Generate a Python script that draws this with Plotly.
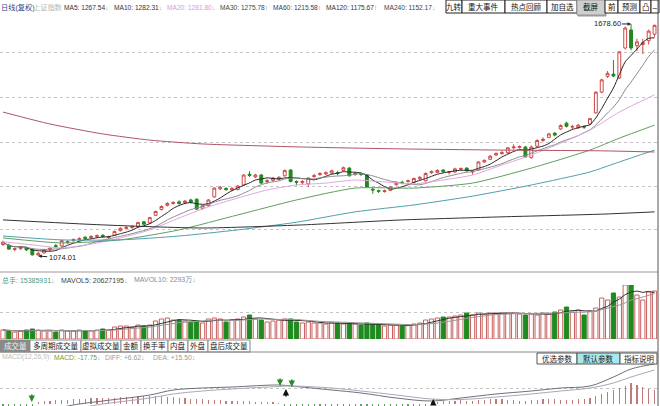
import plotly.graph_objects as go
import pandas as pd

W, H = 660, 406
FONT = "Liberation Sans, Noto Sans CJK SC, sans-serif"

# ---------------- data ----------------
opens = [1104,1102,1091,1093,1095,1092,1077,1082,1090,1101,1100,1109,1114,1117,1123,1122,1125,1128,1122,1128,
         1140,1146,1148,1151,1163,1160,1180,1195,1206,1211,1215,1213,1220,1222,1198,1205,1228,1249,1250,1246,
         1247,1259,1287,1280,1285,1268,1271,1274,1283,1298,1268,1265,1262,1281,1286,1288,1290,1291,1297,1303,
         1287,1289,1285,1248,1244,1242,1245,1260,1266,1268,1266,1275,1270,1291,1292,1298,1292,1293,1300,1303,
         1293,1298,1319,1326,1337,1341,1343,1356,1357,1358,1330,1360,1375,1383,1394,1405,1420,1410,1408,1411,
         1418,1447,1501,1542,1548,1538,1616,1663,1622,1625,1635,1652]
closes = [1110,1092,1093,1097,1090,1077,1081,1090,1094,1099,1114,1112,1117,1119,1120,1125,1127,1125,1124,1138,
          1146,1148,1151,1161,1157,1174,1190,1203,1211,1213,1211,1217,1214,1196,1205,1220,1251,1253,1247,1250,
          1256,1285,1284,1285,1264,1270,1277,1279,1297,1268,1266,1268,1277,1283,1289,1291,1296,1289,1304,1283,
          1289,1287,1254,1246,1243,1244,1254,1265,1265,1270,1276,1279,1289,1294,1297,1294,1293,1301,1302,1296,
          1295,1319,1323,1334,1341,1343,1356,1358,1359,1332,1358,1375,1378,1392,1389,1414,1412,1411,1415,1410,
          1432,1501,1533,1550,1543,1606,1668,1616,1632,1630,1660,1675]
highs = [1114,1106,1096,1100,1098,1094,1084,1092,1097,1105,1116,1115,1120,1123,1125,1128,1130,1131,1127,1140,
         1149,1152,1154,1163,1165,1176,1192,1206,1214,1217,1219,1220,1223,1224,1207,1222,1253,1257,1253,1254,
         1259,1287,1295,1288,1288,1274,1280,1282,1299,1300,1271,1272,1279,1288,1292,1294,1299,1296,1307,1306,
         1293,1291,1287,1252,1247,1247,1256,1268,1270,1273,1278,1282,1292,1297,1300,1300,1296,1304,1305,1305,
         1297,1321,1326,1337,1344,1349,1358,1365,1362,1360,1362,1378,1383,1395,1397,1417,1424,1416,1418,1414,
         1434,1503,1536,1556,1585,1608,1672,1678.6,1640,1640,1664,1677]
lows = [1100,1090,1086,1090,1087,1075,1074.01,1080,1087,1095,1098,1106,1111,1114,1117,1119,1122,1122,1118,1126,
        1138,1143,1145,1149,1155,1158,1178,1193,1203,1208,1208,1210,1211,1194,1195,1203,1226,1246,1244,1243,
        1245,1257,1280,1277,1262,1262,1268,1271,1281,1266,1258,1260,1254,1278,1283,1285,1287,1284,1295,1281,
        1283,1282,1252,1236,1238,1239,1243,1257,1261,1265,1264,1272,1268,1288,1290,1291,1286,1291,1297,1294,
        1286,1296,1316,1324,1334,1338,1341,1352,1354,1330,1328,1358,1372,1381,1386,1402,1409,1404,1406,1405,
        1416,1445,1498,1538,1540,1535,1612,1610,1608,1600,1625,1645]
volumes = [540,480,420,480,540,600,540,480,480,420,540,480,480,540,480,480,540,600,540,
           720,780,780,720,840,780,840,
           1080,1200,1260,1140,
           1140,1080,1020,1080,960,1200,1260,1200,1020,1140,1200,1320,
           1440,1200,1140,1020,1080,1140,1200,1200,
           1020,960,1020,960,960,900,960,960,900,960,900,840,960,900,840,780,840,
           840,780,840,900,960,1140,1200,1260,1320,1320,1380,1440,1560,1440,
           1560,1500,1560,1560,1560,1560,1560,1500,1440,1500,
           1440,1560,1500,1620,1740,1920,1620,1740,1440,1680,
           1860,2460,2340,2760,2520,3240,3240,2640,2340,2820,2880]  # 万手

ma20_idx = [0,5,10,15,20,25,30,35,40,45,50,55,60,65,70,75,80,85,90,95,100,105,111]
ma20_val = [1111,1103,1095,1105,1121,1142,1173,1202,1225,1246,1259,1264,1272,1267,1262,1272,1285,1311,1337,1368,1402,1449,1494]
ma30_idx = [0,10,20,30,40,50,60,70,80,90,100,105,111]
ma30_val = [1121,1108,1116,1142,1181,1220,1251,1251,1264,1303,1350,1381,1415]
ma60_idx = [0,10,20,30,40,50,60,70,80,90,100,105,111]
ma60_val = [1126,1116,1116,1126,1142,1162,1189,1207,1230,1259,1293,1319,1350]
ma120_idx = [0,17,34,51,68,85,102,111]
ma120_val = [1168,1155,1147,1155,1168,1176,1183,1189]
ma240_idx = [0,8,17,25,34,51,68,85,102,111]
ma240_val = [1449,1418,1392,1376,1366,1358,1353,1350,1348,1345]

macd_idx = [0,5,11,17,25,29,34,39,47,49,56,61,67,73,78,84,90,95,100,104,107,111]
diff_val = [-22,-24,-4,6,18,28,32,34,38,36,28,22,12,6,12,20,26,32,36,54,70,80]
dea_val = [-16,-22,-12,0,12,20,26,30,35,36,32,26,18,10,9,14,20,26,32,42,54,68]
macd_hist = ([-4]*6 + [4,6,6,8,8] + [8,10,10,10,12,12,12,12,12,14] + [14,14,16,16,16,16,16,14,14,12]
             + [12,10,10,10,8,8,8,6,6,6] + [6,6,4,4,4,4,2] + [-4]*25 + [4,4,6,6,6,8,6,6]
             + [8,8,10,10,10,8,8,6,6,8] + [8,10,10,10,8,8,8,10,10,12]
             + [16,20,24,28,32,36,42,38,34,30,28])

N = len(closes)
idx = list(range(N))
cs = pd.Series(closes)
ma5 = cs.rolling(5, min_periods=1).mean().tolist()
ma10 = cs.rolling(10, min_periods=1).mean().tolist()
vs = pd.Series(volumes)
mavol5 = vs.rolling(5, min_periods=1).mean().tolist()
mavol10 = vs.rolling(10, min_periods=1).mean().tolist()

UP = "#d04848"
DN = "#1f8a1f"

fig = go.Figure()
fig.add_trace(go.Candlestick(x=idx, open=opens, high=highs, low=lows, close=closes,
                             increasing=dict(line=dict(color=UP, width=1), fillcolor="white"),
                             decreasing=dict(line=dict(color=DN, width=1), fillcolor=DN),
                             xaxis="x", yaxis="y", hoverinfo="skip"))
lines = [(idx, ma5, "#222222"), (idx, ma10, "#8a8a8a"), (ma20_idx, ma20_val, "#e2a6e2"),
         (ma30_idx, ma30_val, "#5f9f5f"), (ma60_idx, ma60_val, "#4f9fb0"),
         (ma120_idx, ma120_val, "#333333"), (ma240_idx, ma240_val, "#b05466")]
for xs, ys, c in lines:
    fig.add_trace(go.Scatter(x=xs, y=ys, mode="lines", line=dict(color=c, width=1, shape="spline", smoothing=0.6),
                             xaxis="x", yaxis="y", hoverinfo="skip"))

vcol = [("white" if c >= o else DN) for o, c in zip(opens, closes)]
vline = [("#c86060" if c >= o else DN) for o, c in zip(opens, closes)]
fig.add_trace(go.Bar(x=idx, y=volumes, width=0.72, marker=dict(color=vcol, line=dict(color=vline, width=1)),
                     xaxis="x2", yaxis="y2", hoverinfo="skip"))
fig.add_trace(go.Scatter(x=idx, y=mavol5, mode="lines", line=dict(color="#333", width=1), xaxis="x2", yaxis="y2"))
fig.add_trace(go.Scatter(x=idx, y=mavol10, mode="lines", line=dict(color="#999", width=1), xaxis="x2", yaxis="y2"))

hcol = [("#c07a7a" if v > 0 else "#6a9a6a") for v in macd_hist]
fig.add_trace(go.Bar(x=idx, y=macd_hist, width=0.2, marker=dict(color=hcol, line=dict(width=0)),
                     xaxis="x3", yaxis="y3", hoverinfo="skip"))
fig.add_trace(go.Scatter(x=macd_idx, y=diff_val, mode="lines", line=dict(color="#6f6f78", width=1, shape="spline"),
                         xaxis="x3", yaxis="y3"))
fig.add_trace(go.Scatter(x=macd_idx, y=dea_val, mode="lines", line=dict(color="#a8a8b8", width=1, shape="spline"),
                         xaxis="x3", yaxis="y3"))

XR = [-0.51, 111.93]
ax_common = dict(range=XR, visible=False, fixedrange=True)

def dom(p0, p1):
    return [1 - p1 / H, 1 - p0 / H]

grid = dict(showticklabels=False, showgrid=True, gridcolor="#c4c4c4", griddash="dot", gridwidth=1,
            zeroline=False, showline=False, ticks="")

fig.update_layout(
    width=W, height=H, margin=dict(l=0, r=0, t=0, b=0), paper_bgcolor="white", plot_bgcolor="white",
    showlegend=False, bargap=0,
    xaxis=dict(ax_common, domain=[0, 1], anchor="y", rangeslider=dict(visible=False)),
    xaxis2=dict(ax_common, domain=[0, 1], anchor="y2"),
    xaxis3=dict(ax_common, domain=[0, 1], anchor="y3"),
    yaxis=dict(grid, domain=dom(14, 268), range=[1042.7, 1704.6], tickvals=[1603, 1488, 1371, 1256, 1142]),
    yaxis2=dict(grid, domain=dom(285, 339), range=[0, 3240], tickvals=[1620, 3240]),
    yaxis3=dict(grid, domain=dom(362, 406), range=[-4, 84], tickvals=[32, 82]),
)

ann = []
shp = []

def text(px, py, s, color="#333", size=7, anchor="left"):
    ann.append(dict(x=px / W, y=1 - py / H, xref="paper", yref="paper", text=s, showarrow=False,
                    xanchor=anchor, yanchor="middle", font=dict(size=size, color=color, family=FONT),
                    borderpad=0))

def rect(x0, y0, x1, y1, fill, line="#333", lw=1):
    shp.append(dict(type="rect", xref="paper", yref="paper", x0=x0 / W, x1=x1 / W, y0=1 - y1 / H, y1=1 - y0 / H,
                    fillcolor=fill, line=dict(color=line, width=lw), layer="above"))

def hline(py, x0, x1, color="#999", w=1):
    shp.append(dict(type="line", xref="paper", yref="paper", x0=x0 / W, x1=x1 / W, y0=1 - py / H, y1=1 - py / H,
                    line=dict(color=color, width=w)))

def vline(px, y0, y1, color="#555", w=1):
    shp.append(dict(type="line", xref="paper", yref="paper", x0=px / W, x1=px / W, y0=1 - y1 / H, y1=1 - y0 / H,
                    line=dict(color=color, width=w)))

DOWN = "<span style='color:#66bbbb'>↓</span>"
UPA = "<span style='color:#dd3333'>↑</span>"

# header
text(0, 7, "日线(复权)", "#2a4a8a", 7.2)
text(32, 7, "上证指数", "#b8b8b8", 7.2)
text(63, 7, "MA5: 1267.54" + DOWN, "#333", 6.6)
text(113, 7, "MA10: 1282.31" + DOWN, "#333", 6.6)
text(166, 7, "MA20: 1281.80" + DOWN, "#d79ad7", 6.6)
text(219, 7, "MA30: 1275.78" + UPA, "#2f4f3f", 6.6)
text(272, 7, "MA60: 1215.58" + UPA, "#2f3f5f", 6.6)
text(325, 7, "MA120: 1175.67" + UPA, "#333", 6.6)
text(383, 7, "MA240: 1152.17" + DOWN, "#444", 6.6)

btns = [(446, 462, "九转", "white"), (462, 505, "重大事件", "white"), (505, 547, "热点回顾", "white"),
        (547, 577, "加自选", "white"), (577, 605, "截屏", "#cfcfcf"), (605, 618, "前", "white"),
        (618, 640, "预测", "white"), (640, 651, "凸", "white"), (651, 659, "→", "white")]
for x0, x1, s, f in btns:
    if s == "截屏":
        rect(x0 + 1, 1, x1 + 1, 16, "#9a9a9a", "#9a9a9a")
        rect(x0, 0, x1, 15, f, "#999")
    else:
        rect(x0, 0, x1, 13, f, "#222")
    text((x0 + x1) / 2, 7, s, "#111", 7.5, "center")

# separators
hline(272, 0, 658, "#9a9a9a")
vline(658, 0, 406, "#555")

# volume header
text(1, 280, "总手: 15385931" + DOWN, "#4f9a7f")
text(60, 280, "MAVOL5: 20627195" + DOWN, "#444")
text(133, 280, "MAVOL10: 2293万" + DOWN, "#7d8ea0")

# tabs
tabs = [(0, 30, "成交量"), (30, 81, "多周期成交量"), (81, 121, "虚拟成交量"), (121, 141, "金额"),
        (141, 168, "换手率"), (168, 188, "内盘"), (188, 208, "外盘"), (208, 250, "盘后成交量")]
for i, (x0, x1, s) in enumerate(tabs):
    rect(x0, 340, x1, 352, "#8a8a8a" if i == 0 else "white", "#888")
    text((x0 + x1) / 2, 346, s, "#f0f0f0" if i == 0 else "#222", 7.5, "center")
hline(352, 0, 658, "#8a8a8a")

# MACD header
text(1, 357, "MACD(12,26,9):", "#bdbdbd", 6.8)
text(53, 357, "MACD: -17.75" + DOWN, "#7a9a3a", 6.8)
text(104, 357, "DIFF: +6.62" + DOWN, "#9a9a9a", 6.8)
text(152, 357, "DEA: +15.50" + DOWN, "#9a9a9a", 6.8)

mb = [(537, 577, "优选参数", "white"), (577, 620, "默认参数", "#a6e8ec"), (620, 657, "指标说明", "white")]
for x0, x1, s, f in mb:
    rect(x0, 353, x1, 364, f, "#555")
    text((x0 + x1) / 2, 358.5, s, "#222", 7.5, "center")

# price labels
ann.append(dict(x=107, y=1678.6, xref="x", yref="y", text="1678.60", showarrow=True, ax=-24, ay=0,
                arrowhead=2, arrowsize=0.7, arrowwidth=1, arrowcolor="#222",
                font=dict(size=7.5, color="#222", family=FONT)))
ann.append(dict(x=6, y=1074.01, xref="x", yref="y", text="1074.01", showarrow=True, ax=24, ay=2,
                arrowhead=2, arrowsize=0.7, arrowwidth=1, arrowcolor="#222",
                font=dict(size=7.5, color="#222", family=FONT)))

# MACD cross arrows
for xi, yv, kind in [(4.9, 4, "d"), (7.0, 2, "u"), (47.2, 36, "d"), (48.2, 30, "u"), (49.2, 34, "d"), (73.3, 10, "u")]:
    ann.append(dict(x=xi, y=yv, xref="x3", yref="y3", text="", showarrow=True, ax=0,
                    ay=(-9 if kind == "d" else 9), arrowhead=2, arrowsize=0.8, arrowwidth=1.6,
                    arrowcolor=("#2a8a2a" if kind == "d" else "#111")))

fig.update_layout(annotations=ann, shapes=shp)
fig.write_html("out.html", config={"displayModeBar": False, "staticPlot": True},
               post_script="document.body.style.margin='0';document.body.style.overflow='hidden';")
